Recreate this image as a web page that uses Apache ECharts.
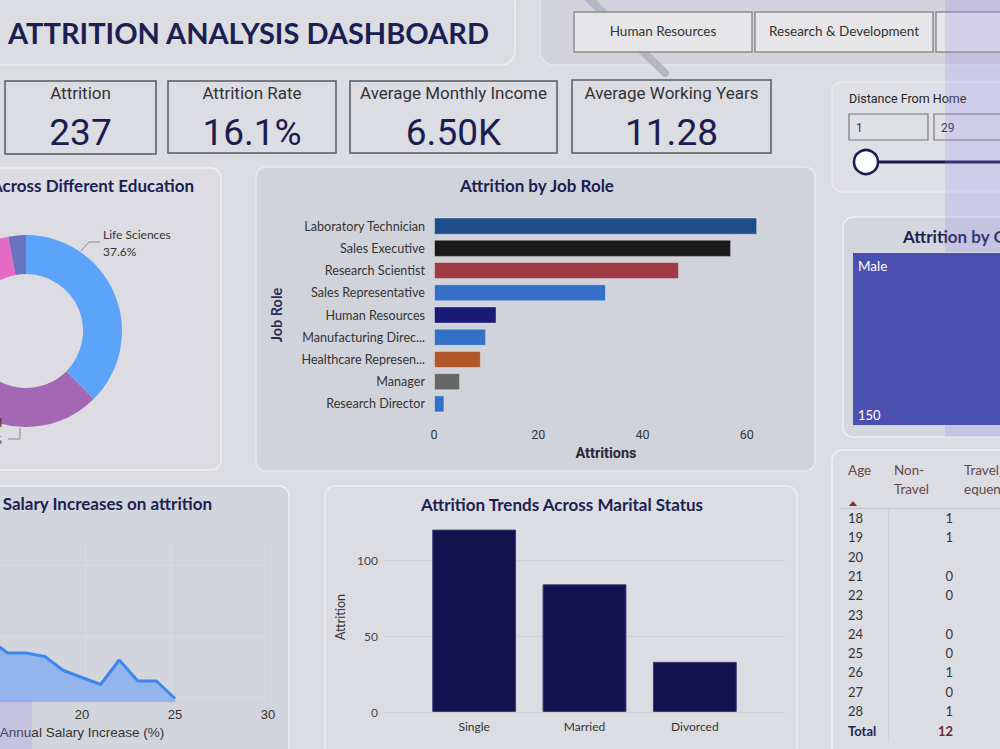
<!DOCTYPE html>
<html><head><meta charset="utf-8">
<script src="https://cdn.jsdelivr.net/npm/echarts@6/dist/echarts.min.js"></script>
<style>html,body{margin:0;padding:0;background:#dcdde3;overflow:hidden;}#c{width:1000px;height:749px;}</style>
</head><body><div id="c"></div>
<script>
// ---------- data ----------
const dashboardTitle = 'ATTRITION ANALYSIS DASHBOARD';
const departments = ['Human Resources', 'Research & Development', 'Sales'];
const kpiLabels = ['Attrition', 'Attrition Rate', 'Average Monthly Income', 'Average Working Years'];
const kpiValues = ['237', '16.1%', '6.50K', '11.28'];
const distanceLabel = 'Distance From Home';
const distanceRange = [1, 29];

const eduFields = ['Life Sciences', 'Medical', 'Marketing', 'Technical Degree', 'Other', 'Human Resources'];
const eduAttrition = [89, 63, 35, 32, 11, 7];

const jobRoles = ['Laboratory Technician', 'Sales Executive', 'Research Scientist', 'Sales Representative',
  'Human Resources', 'Manufacturing Director', 'Healthcare Representative', 'Manager', 'Research Director'];
const jobAttrition = [62, 57, 47, 33, 12, 10, 9, 5, 2];

const genders = ['Male', 'Female'];
const genderAttrition = [150, 87];

const salaryHike = [11, 12, 13, 14, 15, 16, 17, 18, 19, 20, 21, 22, 23, 24, 25];
const salaryAttrition = [41, 33, 34, 24, 18, 14, 14, 13, 9, 7, 5, 12, 6, 6, 1];

const maritalStatus = ['Single', 'Married', 'Divorced'];
const maritalAttrition = [120, 84, 33];

const tableHeaders = ['Age', 'Non-\nTravel', 'Travel_Fr\nequently'];
const tableAges = [18, 19, 20, 21, 22, 23, 24, 25, 26, 27, 28];
const tableNonTravel = [1, 1, null, 0, 0, null, 0, 0, 1, 0, 1];
const tableTotal = 12;

// ---------- styles ----------
const eduColors = ['#5ba4fa', '#a467b3', '#2d3a9a', '#e8845a', '#e36bc5', '#6a72c2'];
const jobColors = ['#1f4d8a', '#1b1b1b', '#a03a44', '#3470c6', '#1a1a78', '#3470c6', '#b0572c', '#666666', '#3470c6'];
const genderColors = ['#4a4fb0', '#d9539c'];
const NAVY = '#1b1f52';

const els = [];
function rect(x, y, w, h, o) {
  els.push({ type: 'rect', silent: true, z: o.z || 0,
    shape: { x: x, y: y, width: w, height: h, r: o.r || 0 },
    style: { fill: o.fill || 'none', stroke: o.stroke || null, lineWidth: o.lw || 1 } });
}
function text(x, y, t, o) {
  els.push({ type: 'text', silent: true, z: o.z || 1, x: x, y: y,
    style: { text: t, fill: o.color || '#333', fontSize: o.size || 12, fontFamily: o.family || 'Lato',
      fontWeight: o.weight || 'normal', align: o.align || 'left', verticalAlign: 'middle', lineHeight: o.lh } });
}
function poly(pts, color, z) {
  els.push({ type: 'polyline', silent: true, z: z || 1, shape: { points: pts }, style: { stroke: color, lineWidth: 1, fill: null } });
}

// panels
rect(-12, -12, 527, 77, { r: 14, fill: '#dcdde3', stroke: '#eef0f4', lw: 1.5 });
rect(540, -12, 480, 77, { r: 14, fill: '#d2d3db', stroke: '#e3e4ea', lw: 1.5 });
els.push({ type: 'line', silent: true, z: 0, shape: { x1: 585, y1: -5, x2: 665, y2: 73 },
  style: { stroke: '#b5b6c3', lineWidth: 8, lineCap: 'round' } });
rect(832, 82, 190, 110, { r: 10, fill: '#dfe0e6', stroke: '#e9eaef', lw: 1.5 });
rect(-12, 168, 233, 302, { r: 10, fill: '#dcdce2', stroke: '#eeeff4', lw: 1.5 });
rect(256, 167, 559, 304, { r: 10, fill: '#d1d3db', stroke: '#e8e9ef', lw: 1.5 });
rect(843, 217, 180, 220, { r: 10, fill: '#d4d6de', stroke: '#eceef3', lw: 1.5 });
rect(832, 450, 190, 320, { r: 10, fill: '#dcdde3', stroke: '#eceef3', lw: 1.5 });
rect(-12, 486, 301, 280, { r: 10, fill: '#d3d5dd', stroke: '#eceef3', lw: 1.5 });
rect(325, 486, 472, 280, { r: 10, fill: '#dcdde3', stroke: '#eceef3', lw: 1.5 });

// title
text(8, 32, dashboardTitle, { size: 29, weight: 'bold', color: NAVY });

// department buttons
departments.forEach(function (d, i) {
  const x = 574 + i * 181;
  rect(x, 12, 178, 40, { fill: '#e6e6e8', stroke: '#8d8d8d', lw: 1.5, z: 1 });
  text(x + 89, 31, d, { size: 13.5, color: '#333', align: 'center', z: 1.2 });
});

// KPI cards
const kpiBoxes = [[5, 81, 151, 73], [168, 81, 168, 72], [350, 81, 207, 72], [572, 80, 199, 73]];
kpiLabels.forEach(function (l, i) {
  const b = kpiBoxes[i];
  rect(b[0], b[1], b[2], b[3], { stroke: '#555a60', lw: 1.5, z: 1 });
  text(b[0] + b[2] / 2, 93, l, { size: 17, family: 'Roboto', color: '#333', align: 'center' });
  text(b[0] + b[2] / 2, 132, kpiValues[i], { size: 37, family: 'Roboto', color: '#1c1c50', align: 'center' });
});

// slider
text(849, 98, distanceLabel, { size: 12.5, family: 'Roboto', color: '#252525' });
rect(849, 114, 79, 26, { stroke: '#777', lw: 1.2, z: 1 });
rect(934, 114, 80, 26, { stroke: '#777', lw: 1.2, z: 1 });
text(856, 128, String(distanceRange[0]), { size: 12, family: 'Roboto', color: '#333' });
text(941, 128, String(distanceRange[1]), { size: 12, family: 'Roboto', color: '#333' });
els.push({ type: 'line', silent: true, z: 1, shape: { x1: 866, y1: 162, x2: 1010, y2: 162 }, style: { stroke: '#1a1a55', lineWidth: 3 } });
els.push({ type: 'circle', silent: true, z: 1.2, shape: { cx: 866, cy: 162, r: 12 }, style: { fill: '#fff', stroke: '#1a1a55', lineWidth: 2.5 } });

// panel titles
text(194, 185, 'Attrition Across Different Education', { size: 17, weight: 'bold', color: NAVY, align: 'right' });
text(537, 185, 'Attrition by Job Role', { size: 17, weight: 'bold', color: NAVY, align: 'center' });
text(903, 236, 'Attrition by Gender', { size: 17, weight: 'bold', color: NAVY });
text(212, 503, 'Impact of Salary Increases on attrition', { size: 17, weight: 'bold', color: NAVY, align: 'right' });
text(562, 504, 'Attrition Trends Across Marital Status', { size: 17, weight: 'bold', color: NAVY, align: 'center' });

// donut leader lines
poly([[81, 251], [89, 242], [100, 242]], '#8a8a8a');
poly([[20, 428], [20, 439], [8, 439]], '#8a8a8a');

// table
const TH = '#654545';
text(848, 470, tableHeaders[0], { size: 13.5, color: TH });
text(894, 479, tableHeaders[1], { size: 13.5, color: TH, lh: 19 });
text(964, 479, tableHeaders[2], { size: 13.5, color: TH, lh: 19 });
els.push({ type: 'polygon', silent: true, z: 1, shape: { points: [[849, 506], [857, 506], [853, 501]] }, style: { fill: '#8b2a2a' } });
els.push({ type: 'line', silent: true, z: 1, shape: { x1: 840, y1: 508.5, x2: 1005, y2: 508.5 }, style: { stroke: '#c6c7cf', lineWidth: 1 } });
els.push({ type: 'line', silent: true, z: 1, shape: { x1: 888.5, y1: 509, x2: 888.5, y2: 742 }, style: { stroke: '#cfd0d7', lineWidth: 1 } });
tableAges.forEach(function (a, i) {
  const y = 518 + i * 19.3;
  text(848, y, String(a), { size: 13, color: '#333' });
  if (tableNonTravel[i] !== null) text(953, y, String(tableNonTravel[i]), { size: 13, color: '#333', align: 'right' });
});
text(848, 731, 'Total', { size: 13, weight: 'bold', color: NAVY });
text(953, 731, String(tableTotal), { size: 13, weight: 'bold', color: '#6b2b2b', align: 'right' });

// decorative translucent strips (continuous at top right, and bottom-left)
rect(945, 0, 60, 252, { fill: 'rgba(150,135,235,0.22)', z: 1.5 });
rect(945, 425, 60, 12, { fill: 'rgba(150,135,235,0.22)', z: 1.5 });
rect(0, 700, 32, 49, { fill: 'rgba(150,135,235,0.22)', z: 100 });

const axisTxt = { color: '#333', fontFamily: 'Lato', fontSize: 12 };
const eduTotal = eduAttrition.reduce(function (a, b) { return a + b; }, 0);
const genderTotal = genderAttrition.reduce(function (a, b) { return a + b; }, 0);

const genderSeries = genders.map(function (g, i) {
  return { type: 'bar', name: g, stack: 'gender', xAxisIndex: 4, yAxisIndex: 4, barWidth: '100%', silent: true, z: 5,
    data: [genderAttrition[i]], itemStyle: { color: genderColors[i], opacity: 1 },
    label: { show: true, position: 'insideTopLeft', distance: 5, color: '#fff', fontFamily: 'Lato', fontSize: 13,
      lineHeight: 22.33,
      formatter: function (p) { return '{a|' + p.seriesName + '}\n\n\n\n\n\n\n{c|' + p.value + '}'; },
      rich: { a: { fontSize: 13.5, lineHeight: 16, color: '#fff', fontFamily: 'Lato' },
              c: { fontSize: 13, lineHeight: 14, color: '#fff', fontFamily: 'Lato' } } } };
});

const option = {
  backgroundColor: '#dcdde3',
  animation: false,
  graphic: { elements: els },
  grid: [
    { left: 434, top: 215, width: 344, height: 200, outerBoundsMode: 'none', containLabel: false },
    { left: -104, top: 544.5, width: 372, height: 157.5, outerBoundsMode: 'none', containLabel: false },
    { left: 419, top: 522, width: 331, height: 190, outerBoundsMode: 'none', containLabel: false },
    { left: 385, top: 522, width: 402, height: 190, outerBoundsMode: 'none', containLabel: false },
    { left: 853, top: 253, width: 250, height: 172, outerBoundsMode: 'none', containLabel: false }
  ],
  xAxis: [
    { gridIndex: 0, type: 'value', min: 0, max: 66, interval: 20,
      axisLine: { show: false }, axisTick: { show: false }, splitLine: { show: false },
      axisLabel: { color: '#333', fontFamily: 'Roboto', fontSize: 12.5, margin: 13, showMaxLabel: false },
      name: 'Attritions', nameLocation: 'middle', nameGap: 31,
      nameTextStyle: { color: '#2a2a3a', fontFamily: 'Roboto', fontWeight: 'bold', fontSize: 14.5 } },
    { gridIndex: 1, type: 'value', min: 10, max: 30, interval: 5,
      axisLine: { show: false }, axisTick: { show: false },
      splitLine: { show: true, lineStyle: { color: 'rgba(110,110,140,0.1)', type: 'dotted' } },
      axisLabel: { color: '#333', fontFamily: 'Liberation Sans', fontSize: 13, margin: 6 },
      name: 'Annual Salary Increase (%)', nameLocation: 'middle', nameGap: 23,
      nameTextStyle: { color: '#333', fontFamily: 'Liberation Sans', fontSize: 13.5 } },
    { gridIndex: 2, type: 'category', data: maritalStatus,
      axisLine: { show: false }, axisTick: { show: false },
      axisLabel: Object.assign({ margin: 8, fontSize: 12.5 }, axisTxt) },
    { gridIndex: 3, type: 'value', show: false, min: 0, max: 1 },
    { gridIndex: 4, type: 'value', show: false, min: 0, max: genderTotal }
  ],
  yAxis: [
    { gridIndex: 0, type: 'category', data: jobRoles, inverse: true,
      axisLine: { show: false }, axisTick: { show: false },
      axisLabel: Object.assign({}, axisTxt, { fontSize: 12.6, margin: 9, interval: 0, width: 127, overflow: 'truncate', ellipsis: '...' }),
      name: 'Job Role', nameLocation: 'middle', nameGap: 150, nameRotate: 90,
      nameTextStyle: { color: '#2b2e5a', fontFamily: 'Lato', fontWeight: 'bold', fontSize: 14.5 } },
    { gridIndex: 1, type: 'value', min: 0, max: 45, interval: 20,
      axisLine: { show: false }, axisTick: { show: false }, axisLabel: { show: false },
      splitLine: { show: true, showMaxLine: false, lineStyle: { color: 'rgba(110,110,140,0.1)', type: 'dotted' } } },
    { gridIndex: 2, type: 'value', min: 0, max: 125, interval: 50, show: false, splitLine: { show: false } },
    { gridIndex: 3, type: 'value', min: 0, max: 125, interval: 50,
      axisLine: { show: false }, axisTick: { show: false },
      axisLabel: Object.assign({ margin: 7, showMaxLabel: false }, axisTxt, { color: '#444' }),
      splitLine: { show: true, showMaxLine: false, lineStyle: { color: '#c4c5cc', type: 'dotted' } },
      name: 'Attrition', nameLocation: 'middle', nameGap: 38, nameRotate: 90,
      nameTextStyle: { color: '#333', fontFamily: 'Lato', fontSize: 12.5 } },
    { gridIndex: 4, type: 'category', show: false, data: ['Gender'] }
  ],
  series: [
    { type: 'pie', center: [26, 331], radius: [57, 96], startAngle: 90, clockwise: true,
      avoidLabelOverlap: false, silent: true,
      itemStyle: { borderWidth: 0 },
      data: eduFields.map(function (n, i) {
        return { name: n, value: eduAttrition[i], itemStyle: { color: eduColors[i] },
          label: { show: i < 2 }, labelLine: { show: false } };
      }),
      label: { color: '#333', fontFamily: 'Lato', fontSize: 12, lineHeight: 17,
        formatter: function (p) { return p.name + '\n' + (p.value / eduTotal * 100).toFixed(1) + '%'; } },
      labelLine: { show: false },
      labelLayout: function (p) {
        if (p.dataIndex === 0) return { x: 103, y: 243, align: 'left', verticalAlign: 'middle' };
        if (p.dataIndex === 1) return { x: 2, y: 431, align: 'right', verticalAlign: 'middle' };
        return {};
      }
    },
    { type: 'bar', xAxisIndex: 0, yAxisIndex: 0, barCategoryGap: '23%', silent: true,
      data: jobAttrition.map(function (v, i) {
        return { value: v, itemStyle: { color: jobColors[i], borderColor: 'rgba(255,255,255,0.35)', borderWidth: 1 } };
      }) },
    { type: 'line', xAxisIndex: 1, yAxisIndex: 1, symbol: 'none', silent: true,
      data: salaryHike.map(function (h, i) { return [h, salaryAttrition[i]]; }),
      lineStyle: { color: '#3d88ee', width: 3 },
      areaStyle: { color: '#93b5ec', opacity: 1 } },
    { type: 'bar', xAxisIndex: 2, yAxisIndex: 2, barCategoryGap: '24%', silent: true,
      data: maritalAttrition,
      itemStyle: { color: '#14124e', borderColor: '#3e3d72', borderWidth: 1 } }
  ].concat(genderSeries)
};

const chart = echarts.init(document.getElementById('c'), null, { renderer: 'svg', width: 1000, height: 749 });
chart.setOption(option);
</script>
</body></html>
